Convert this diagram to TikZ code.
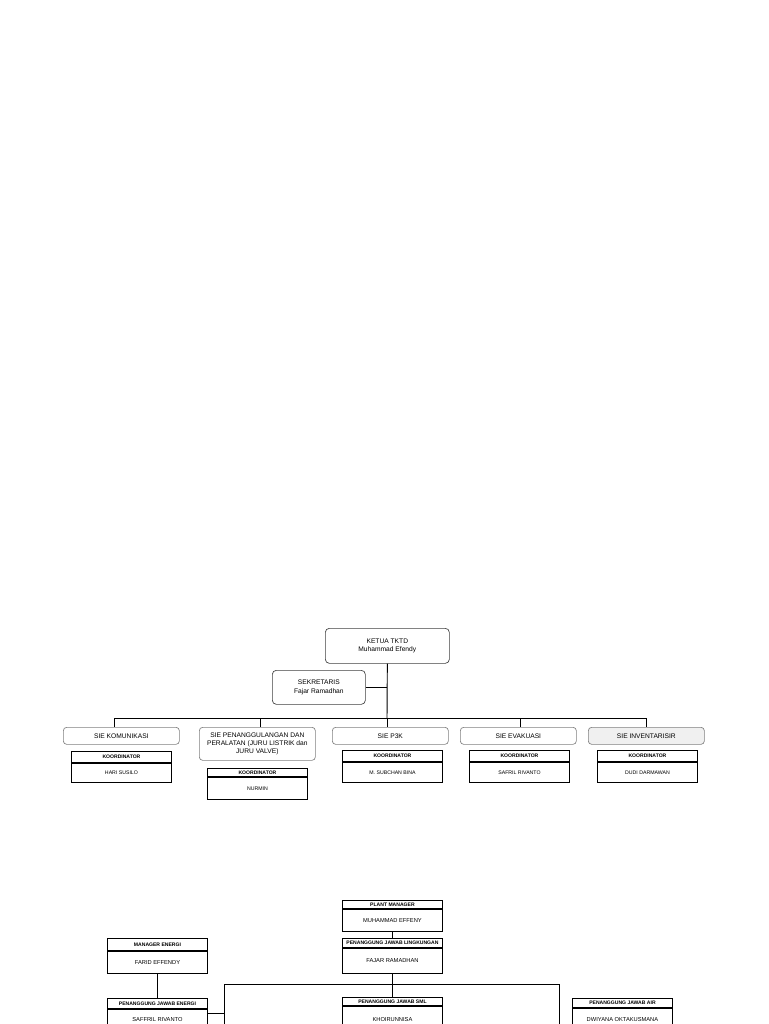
\documentclass[tikz,border=0pt]{standalone}
\usepackage{fontspec}
\setmainfont{Liberation Sans}
\usetikzlibrary{positioning}
\newcommand{\pxu}{0.75pt}
\tikzset{
  roundbox/.style={draw=black!75, rounded corners=3pt, inner sep=0pt, anchor=north west,
    align=center, font=\fontsize{5}{6.2}\selectfont, line width=0.5pt},
  siebox/.style={draw=black!50, rounded corners=2.5pt, inner sep=0pt, anchor=north west,
    align=center, font=\fontsize{5}{6.2}\selectfont, line width=0.5pt,
    minimum width=116*\pxu},
  hdrbox/.style={draw, inner sep=0pt, anchor=north west, minimum width=100*\pxu,
    font=\fontsize{3.8}{5}\bfseries\selectfont, line width=0.7pt},
  namebox/.style={draw, inner sep=0pt, minimum width=100*\pxu,
    font=\fontsize{3.9}{5}\selectfont, line width=0.7pt},
  link/.style={line width=0.7pt}
}
\begin{document}
\begin{tikzpicture}[x=\pxu, y=-\pxu]
\fill[white] (0,0) rectangle (768,1024);
\clip (0,0) rectangle (768,1024);

% struktur TKTD
\node[roundbox, minimum width=124*\pxu, minimum height=35*\pxu] (ketua) at (325,628) {KETUA TKTD\\Muhammad Efendy};
\node[roundbox, minimum width=93*\pxu, minimum height=34*\pxu] (sekre) at (272,670) {SEKRETARIS\\Fajar Ramadhan};

\node[siebox, minimum height=17*\pxu] (kom) at (63,727) {SIE KOMUNIKASI};
\node[siebox, minimum height=33*\pxu] (pen) at (199,727) {SIE PENANGGULANGAN DAN\\PERALATAN (JURU LISTRIK dan\\JURU VALVE)};
\node[siebox, minimum height=17*\pxu] (p3k) at (332,727) {SIE P3K};
\node[siebox, minimum height=17*\pxu] (evak) at (460,727) {SIE EVAKUASI};
\node[siebox, minimum height=17*\pxu, fill=black!6] (inv) at (588,727) {SIE INVENTARISIR};

\coordinate (b1) at (114,718);
\coordinate (b2) at (260,718);
\coordinate (b3) at (387,718);
\coordinate (b4) at (520,718);
\coordinate (b5) at (646,718);

\draw[link] (ketua.south) -- (b3);
\draw[link] (sekre.east) -- (sekre.east -| ketua.south);
\draw[link] (b1) -- (b5);
\draw[link] (b1) -- (b1 |- kom.north);
\draw[link] (b2) -- (b2 |- pen.north);
\draw[link] (b3) -- (b3 |- p3k.north);
\draw[link] (b4) -- (b4 |- evak.north);
\draw[link] (b5) -- (b5 |- inv.north);

\node[hdrbox, minimum height=11*\pxu] (k1h) at (71,751) {KOORDINATOR};
\node[namebox, minimum height=19*\pxu, below=0pt of k1h] (k1n) {HARI SUSILO};
\node[hdrbox, minimum height=8*\pxu] (k2h) at (207,768) {KOORDINATOR};
\node[namebox, minimum height=22*\pxu, below=0pt of k2h] (k2n) {NURMIN};
\node[hdrbox, minimum height=11*\pxu] (k3h) at (342,750) {KOORDINATOR};
\node[namebox, minimum height=20*\pxu, below=0pt of k3h] (k3n) {M. SUBCHAN BINA};
\node[hdrbox, minimum height=11*\pxu] (k4h) at (469,750) {KOORDINATOR};
\node[namebox, minimum height=20*\pxu, below=0pt of k4h] (k4n) {SAFRIL RIVANTO};
\node[hdrbox, minimum height=11*\pxu] (k5h) at (597,750) {KOORDINATOR};
\node[namebox, minimum height=20*\pxu, below=0pt of k5h] (k5n) {DUDI DARMAWAN};

% struktur lingkungan
\node[hdrbox, minimum height=8*\pxu] (pmh) at (342,900) {PLANT MANAGER};
\node[namebox, minimum height=22*\pxu, below=0pt of pmh, font=\fontsize{4.3}{5}\selectfont] (pmn) {MUHAMMAD EFFENY};
\node[hdrbox, minimum height=9*\pxu] (lkh) at (342,938) {PENANGGUNG JAWAB LINGKUNGAN};
\node[namebox, minimum height=25*\pxu, below=0pt of lkh, font=\fontsize{4.3}{5}\selectfont] (lkn) {FAJAR RAMADHAN};
\node[hdrbox, minimum height=12*\pxu] (meh) at (107,938) {MANAGER ENERGI};
\node[namebox, minimum height=22*\pxu, below=0pt of meh, font=\fontsize{4.3}{5}\selectfont] (men) {FARID EFFENDY};
\node[hdrbox, minimum height=10*\pxu] (pjeh) at (107,998) {PENANGGUNG JAWAB ENERGI};
\node[namebox, minimum height=20*\pxu, below=0pt of pjeh, font=\fontsize{4.3}{5}\selectfont] (pjen) {SAFFRIL RIVANTO};
\node[hdrbox, minimum height=8*\pxu] (smlh) at (342,997) {PENANGGUNG JAWAB SML};
\node[namebox, minimum height=26*\pxu, below=0pt of smlh, font=\fontsize{4.3}{5}\selectfont] (smln) {KHOIRUNNISA};
\node[hdrbox, minimum height=9*\pxu] (airh) at (572,998) {PENANGGUNG JAWAB AIR};
\node[namebox, minimum height=22*\pxu, below=0pt of airh, font=\fontsize{4.3}{5}\selectfont] (airn) {DWIYANA OKTAKUSMANA};

\coordinate (bl) at (224,984);
\coordinate (br) at (559,984);
\coordinate (bld) at (224,1032);
\coordinate (brd) at (559,1032);

\draw[link] (pmn.south) -- (lkh.north);
\draw[link] (lkn.south) -- (smlh.north);
\draw[link] (men.south) -- (pjeh.north);
\draw[link] (bl) -- (br);
\draw[link] (bl) -- (bld);
\draw[link] (br) -- (brd);
\draw[link] ([yshift=-5*\pxu]pjen.north east) -- ([yshift=-5*\pxu]pjen.north east -| bl);
\end{tikzpicture}
\end{document}
